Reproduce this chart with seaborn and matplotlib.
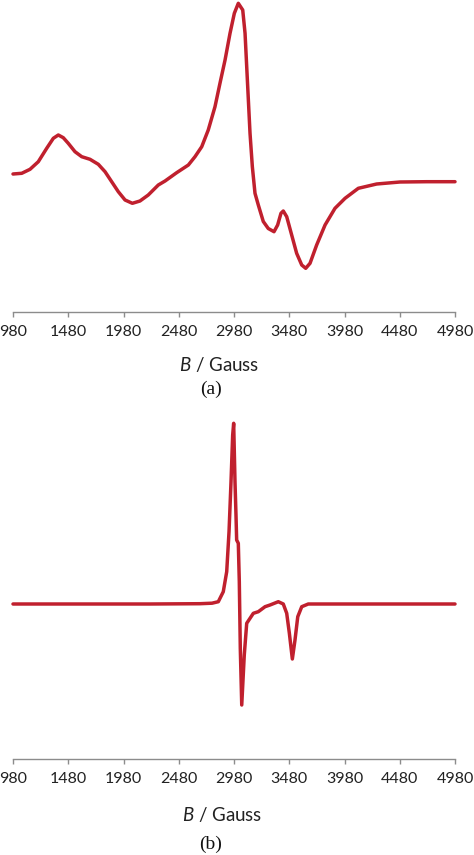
import seaborn as sns
import matplotlib.pyplot as plt
import pandas as pd

# panel (a): broad spectrum, field in Gauss, signal in arbitrary units
field_a = [980, 1059, 1134, 1209, 1285, 1345, 1390, 1435, 1480, 1541, 1602, 1677,
           1752, 1813, 1873, 1933, 1994, 2060, 2129, 2204, 2295, 2356, 2461, 2567,
           2627, 2688, 2747, 2808, 2853, 2899, 2944, 2983, 3019, 3059, 3080, 3095,
           3110, 3125, 3146, 3170, 3200, 3245, 3290, 3342, 3375, 3405, 3426, 3457,
           3502, 3547, 3593, 3629, 3668, 3728, 3804, 3894, 3985, 4105, 4271, 4482,
           4724, 4980]
signal_a = [8, 8.7, 12.7, 20.3, 33.7, 43.7, 47, 44.3, 38.7, 30.3, 25.3, 22.7,
            17.7, 10.3, 0.3, -9.7, -18, -21.3, -19, -13, -3, 1, 9.3, 17,
            25.3, 35.3, 52, 75.3, 98.7, 122, 148.7, 168.7, 178.7, 172, 148.7, 115.3,
            82, 48.7, 15.3, -11.3, -23, -39.5, -46.5, -49.7, -43, -31.3, -29, -34.7,
            -53, -71.3, -83, -86.3, -81.3, -63, -43, -26.3, -16.3, -6.3, -2, 0,
            0.3, 0.3]

# panel (b): narrow spectrum
field_b = [980, 1500, 2220, 2672, 2781, 2838, 2883, 2914, 2935, 2953, 2968, 2977,
           2989, 2998, 3004, 3019, 3028, 3037, 3050, 3073, 3095, 3155, 3200, 3261,
           3306, 3381, 3426, 3457, 3481, 3508, 3532, 3557, 3593, 3652, 3713, 4300,
           4980]
signal_b = [0, 0, 0, 0.3, 0.8, 2.3, 12.3, 32.3, 72.3, 122.3, 169, 180.7,
            122.3, 89, 64, 60.7, 22.3, -44.3, -101, -51, -19.3, -9.3, -7.7, -2.7,
            -1, 2.3, 0, -9.3, -29.3, -55, -36, -12.7, -2.7, 0, 0, 0,
            0]

xticks = [980, 1480, 1980, 2480, 2980, 3480, 3980, 4480, 4980]

sns.set_style("white")
plt.rcParams['font.family'] = ['Lato', 'DejaVu Sans']
plt.rcParams['mathtext.fontset'] = 'custom'
plt.rcParams['mathtext.it'] = 'Lato:italic'
plt.rcParams['mathtext.rm'] = 'Lato'

W, H = 474, 855
fig = plt.figure(figsize=(W / 100, H / 100), dpi=100)

red = "#C0202E"
grey = "#8C8C8C"


def make_panel(top_px, bottom_px, field, signal, ylim, label_y, tag, tag_y, lab_x):
    ax = fig.add_axes([13 / W, 1 - bottom_px / H, 442 / W, (bottom_px - top_px) / H])
    df = pd.DataFrame({"field": field, "signal": signal})
    sns.lineplot(data=df, x="field", y="signal", ax=ax, color=red, linewidth=2.5,
                 clip_on=False, solid_joinstyle="round", solid_capstyle="round")
    ax.set_xlim(980, 4980)
    ax.set_ylim(*ylim)
    ax.set_xticks(xticks)
    ax.set_xticklabels([str(t) for t in xticks], fontsize=11.5, color="#222222")
    ax.set_yticks([])
    ax.set_xlabel("")
    ax.set_ylabel("")
    for s in ["top", "left", "right"]:
        ax.spines[s].set_visible(False)
    ax.spines["bottom"].set_color(grey)
    ax.spines["bottom"].set_linewidth(1.0)
    ax.tick_params(axis="x", direction="out", length=3.5, width=1.0, color=grey, pad=6,
                   bottom=True)
    ax.patch.set_alpha(0)
    fig.text(lab_x / W, 1 - label_y / H, r"$B$ / Gauss", ha="center", va="center",
             fontsize=13.5, color="#222222")
    fig.text(211 / W, 1 - tag_y / H, tag, ha="center", va="center", fontsize=14,
             family="Liberation Serif", color="#111111")
    return ax


make_panel(0, 312, field_a, signal_a, (-130, 182), 364, "(a)", 389, 219)
make_panel(420, 759, field_b, signal_b, (-155, 184), 814, "(b)", 844, 222)

plt.savefig("out.png", dpi=100)
plt.close()
